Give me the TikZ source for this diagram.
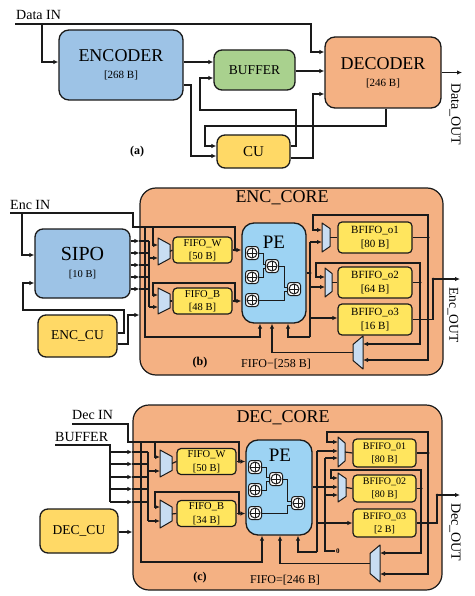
\documentclass[tikz,border=0pt]{standalone}
\usepackage{fontspec}
\setmainfont{Liberation Serif}
\usetikzlibrary{arrows.meta,calc}
\definecolor{cEnc}{HTML}{9DC3E6}
\definecolor{cBuf}{HTML}{A9D18E}
\definecolor{cDec}{HTML}{F4B183}
\definecolor{cCU}{HTML}{FFD966}
\definecolor{cFifo}{HTML}{FFE55E}
\definecolor{cPE}{HTML}{9DD3F3}
\definecolor{cMux}{HTML}{C8DDF2}
\definecolor{cLine}{HTML}{1A1A1A}
\newcommand{\fsz}[1]{\fontsize{#1}{#1}\selectfont}
\newcommand{\muxdraw}[6]{%
  \draw[muxs] (#2,#3-#5) -- (#2+#4,#3-#6) -- (#2+#4,#3+#6) -- (#2,#3+#5) -- cycle;
  \coordinate (#1-l) at (#2,#3);
  \coordinate (#1-r) at (#2+#4,#3);}
\tikzset{
  box/.style={draw=cLine, line width=1.3pt, rounded corners=8pt, inner sep=0pt, align=center},
  fifo/.style={box, fill=cFifo, rounded corners=4pt, line width=1.2pt, minimum width=59pt, minimum height=26pt, font={\fsz{10.5}}},
  bf/.style={box, fill=cFifo, rounded corners=4pt, line width=1.2pt, minimum width=74pt, minimum height=31pt, font={\fsz{11}}},
  wire/.style={draw=cLine, line width=1.2pt},
  arr/.style={wire, -{Latex[length=5pt,width=4.5pt]}},
  thinw/.style={draw=cLine, line width=0.7pt},
  muxs/.style={draw=cLine, line width=1pt, fill=cMux, line join=round},
  jdot/.style={circle, fill=cLine, inner sep=0pt, minimum size=3pt},
  lbl/.style={inner sep=0pt, font={\fsz{14}}},
  adder/.style={draw=cLine, line width=1pt, fill=white, rounded corners=3pt, minimum size=13pt, inner sep=0pt,
    path picture={
      \draw[line width=1pt] (path picture bounding box.center) circle (5pt);
      \draw[line width=1pt] ([xshift=-5pt]path picture bounding box.center) -- ([xshift=5pt]path picture bounding box.center);
      \draw[line width=1pt] ([yshift=-5pt]path picture bounding box.center) -- ([yshift=5pt]path picture bounding box.center);}},
}
\begin{document}
\begin{tikzpicture}[x=1pt,y=-1pt]
\useasboundingbox[fill=white] (0,0) rectangle (474,596);

%%%%%%%%%%%%%%%% (a)
\node[box, fill=cEnc, minimum width=124pt, minimum height=70pt, rounded corners=10pt] (enc) at (121,65) {\fsz{18}ENCODER\\[5pt]\fsz{11}[268 B]};
\node[box, fill=cBuf, minimum width=81pt, minimum height=40pt] (buf) at (254.5,70) {\fsz{13.5}BUFFER};
\node[box, fill=cDec, minimum width=116pt, minimum height=71pt, rounded corners=10pt] (dec) at (383,72.5) {\fsz{18}DECODER\\[5pt]\fsz{11}[246 B]};
\node[box, fill=cCU, minimum width=73pt, minimum height=33pt] (cu) at (253.5,151.5) {\fsz{15}CU};

\coordinate (din) at (15,24);
\node[lbl, anchor=south west] (dinl) at (16,20) {Data IN};
\draw[arr] (din) -- (311,24) |- (dec.west |- 0,52);
\draw[arr] (42,24) |- (enc.west |- 0,62);
\draw[arr] (enc.east |- 0,62) -- (buf.west |- 0,62);
\draw[arr] (buf.east |- 0,71) -- (dec.west |- 0,71);
\draw[arr] (enc.east |- 0,85) -| (191,156) -- (cu.west |- 0,156);
\draw[arr] (dec.south -| 386,0) |- (205,126) |- (cu.west |- 0,146);
\draw[arr] (cu.east |- 0,146) -| (296,110) -| (200,78) -- (buf.west |- 0,78);
\draw[arr] (cu.east |- 0,158) -| (313,94) -- (dec.west |- 0,94);
\coordinate (dout) at (462,72.5);
\draw[arr] (dec.east) -- (dout);
\node[lbl, rotate=-90, anchor=west] (doutl) at (455,83) {Data\_OUT};
\node[font={\fsz{12}\bfseries}] (la) at (137,152) {(a)};

%%%%%%%%%%%%%%%% (b)
\node[box, fill=cDec, minimum width=303pt, minimum height=187pt, rounded corners=16pt, line width=1.2pt] (coreb) at (291.5,281.5) {};
\node[font={\fsz{18}}] (corebl) at (282,198) {ENC\_CORE};
\node[box, fill=cEnc, minimum width=95pt, minimum height=69pt] (sipo) at (82.5,263.5) {\fsz{20}SIPO\\[5pt]\fsz{10.5}[10 B]};
\node[box, fill=cCU, minimum width=79pt, minimum height=42pt] (enccu) at (77.5,336) {\fsz{13.5}ENC\_CU};
\node[fifo] (fwb) at (202.5,250) {FIFO\_W\\[3pt][50 B]};
\node[fifo] (fbb) at (202.5,301) {FIFO\_B\\[3pt][48 B]};
\muxdraw{mwb}{158}{251.5}{12}{13.5}{7}
\muxdraw{mbb}{158}{301}{12}{13}{7}
\node[box, fill=cPE, minimum width=64pt, minimum height=100pt, rounded corners=12pt] (peb) at (274,273) {};
\node[font={\fsz{19}}] (pebl) at (274,242) {PE};
\node[adder] (b1) at (252,253) {};
\node[adder] (b2) at (252,277) {};
\node[adder] (b3) at (252,300) {};
\node[adder] (b4) at (272,266) {};
\node[adder] (b5) at (294,289) {};
\draw[thinw] (b1.east) -| (263,264) -- (b4.west |- 0,264);
\draw[thinw] (b2.east) -| (263,268) -- (b4.west |- 0,268);
\draw[thinw] (b4.east) -| (284,287) -- (b5.west |- 0,287);
\draw[thinw] (b3.east) -| (284,291) -- (b5.west |- 0,291);
\node[bf] (bf1b) at (375,237.5) {BFIFO\_o1\\[3pt][80 B]};
\node[bf] (bf2b) at (375,282.5) {BFIFO\_o2\\[3pt][64 B]};
\node[bf] (bf3b) at (375,319.5) {BFIFO\_o3\\[3pt][16 B]};
\muxdraw{mo1b}{322}{237.5}{8}{14.5}{9}
\muxdraw{mo2b}{325}{282.5}{7}{14.5}{9}
\muxdraw{mbot}{353}{352.5}{10}{8}{16.5}

\coordinate (encin) at (10,213);
\node[lbl, anchor=south west] (encinl) at (10,210) {Enc IN};
\draw[wire] (encin) -| (133,227) -- (153,227);
\draw[arr] (145,227) -- (145,337) -| (peb.south -| 260,0);
\draw[arr] (22,213) |- (sipo.west |- 0,255);
\foreach \yy in {241,253,265,277,289} {
  \draw[arr] (sipo.east |- 0,\yy) -- (coreb.west |- 0,\yy);
  \draw[wire] (coreb.west |- 0,\yy) -- (149,\yy);}
\draw[wire] (149,241) -- (149,307);
\draw[arr] (149,258) -- (mwb-l |- 0,258);
\draw[arr] (149,307) -- (mbb-l |- 0,307);
\draw[arr] (enccu.east |- 0,333) -| (124,310) -| (23,283) -- (sipo.west |- 0,283);
\draw[arr] (enccu.east |- 0,344) -| (128,315) -- (coreb.west |- 0,315);
\coordinate (fwbj) at (235,250);
\coordinate (fbbj) at (235,301);
\draw[wire] (mwb-r) -- (fwb.west);
\draw[wire] (mbb-r) -- (fbb.west);
\draw[arr] (fwb.east) -- (peb.west |- fwb.east);
\draw[arr] (fbb.east) -- (peb.west |- fbb.east);
\draw[arr] (fwbj) |- (153,227) |- (mwb-l |- 0,245);
\draw[arr] (fbbj) |- (153,283) |- (mbb-l |- 0,295);
\node[jdot] at (fwbj) {};
\node[jdot] at (fbbj) {};
% PE outputs
\coordinate (pebo) at (310,273);
\draw[wire] (peb.east |- pebo) -- (pebo);
\draw[wire] (310,242) -- (310,337);
\draw[arr] (310,337) -| (peb.south -| 288,0);
\draw[arr] (310,242) -- (mo1b-l |- 0,242);
\draw[arr] (310,287) -- (mo2b-l |- 0,287);
\draw[arr] (310,318) -- (bf3b.west |- 0,318);
\node[jdot] at (pebo) {};
\draw[wire] (mo1b-r) -- (bf1b.west);
\draw[wire] (mo2b-r) -- (bf2b.west);
\coordinate (bf1bj) at (428,237.5);
\coordinate (bf2bj) at (420,282.5);
\draw[wire] (bf1b.east) -- (bf1bj);
\draw[wire] (bf2b.east) -- (bf2bj);
\draw[arr] (bf1bj) |- (313,215) |- (mo1b-l |- 0,230);
\draw[arr] (bf1bj) |- (mbot-r |- 0,360);
\draw[arr] (bf2bj) |- (316,263) |- (mo2b-l |- 0,277);
\draw[arr] (bf2bj) |- (mbot-r |- 0,344);
\node[jdot] at (bf1bj) {};
\node[jdot] at (bf2bj) {};
\coordinate (eout) at (460,279);
\draw[arr] (bf3b.east) -| (433,279) -- (eout);
\node[jdot] at (433,279) {};
\node[rotate=-90, anchor=west, inner sep=0pt, font={\fsz{13.5}}] (eoutl) at (453,287) {Enc\_OUT};
\draw[arr] (mbot-l) -| (peb.south -| 272,0);
\node[font={\fsz{12}\bfseries}] (lb) at (200,363) {(b)};
\node[font={\fsz{12}}] (fifob) at (276,364) {FIFO−[258 B]};

%%%%%%%%%%%%%%%% (c)
\node[box, fill=cDec, minimum width=309pt, minimum height=185pt, rounded corners=16pt, line width=1.2pt] (corec) at (287.5,497.5) {};
\node[font={\fsz{18}}] (corecl) at (283,418) {DEC\_CORE};
\node[box, fill=cCU, minimum width=78pt, minimum height=44pt] (deccu) at (79,531) {\fsz{13.5}DEC\_CU};
\node[fifo] (fwc) at (206.5,461.5) {FIFO\_W\\[3pt][50 B]};
\node[fifo] (fbc) at (206.5,513.5) {FIFO\_B\\[3pt][34 B]};
\muxdraw{mwc}{160}{463.5}{12}{13.5}{7}
\muxdraw{mbc}{160}{514}{12}{14}{7}
\node[box, fill=cPE, minimum width=66pt, minimum height=95pt, rounded corners=12pt] (pec) at (279,487.5) {};
\node[font={\fsz{19}}] (pecl) at (280,455) {PE};
\node[adder] (c1) at (255,467) {};
\node[adder] (c2) at (255,490) {};
\node[adder] (c3) at (255,513) {};
\node[adder] (c4) at (276,479) {};
\node[adder] (c5) at (298,503) {};
\draw[thinw] (c1.east) -| (266,477) -- (c4.west |- 0,477);
\draw[thinw] (c2.east) -| (266,481) -- (c4.west |- 0,481);
\draw[thinw] (c4.east) -| (287,501) -- (c5.west |- 0,501);
\draw[thinw] (c3.east) -| (287,505) -- (c5.west |- 0,505);
\node[bf, minimum width=63pt, minimum height=28pt, font={\fsz{10}}] (bf1c) at (384.5,453) {BFIFO\_01\\[3pt][80 B]};
\node[bf, minimum width=63pt, minimum height=27pt, font={\fsz{10}}] (bf2c) at (384.5,488.5) {BFIFO\_02\\[3pt][80 B]};
\node[bf, minimum width=63pt, minimum height=28pt, font={\fsz{10}}] (bf3c) at (384.5,523) {BFIFO\_03\\[3pt][2 B]};
\muxdraw{mo1c}{338}{452}{7}{15}{9}
\muxdraw{mo2c}{338}{487.5}{8}{14.5}{9}
\muxdraw{mbotc}{370}{563.5}{10}{10}{18.5}

\coordinate (decin) at (72,424);
\node[lbl, anchor=south west] (decinl) at (72,420) {Dec IN};
\draw[wire] (decin) -| (128,442) -- (155,442);
\draw[arr] (141,442) -- (141,562) -| (pec.south -| 262,0);
\coordinate (bufin) at (55,445);
\node[lbl, anchor=south west] (bufinl) at (55,442) {BUFFER};
\draw[wire] (bufin) -| (110,502);
\foreach \yy in {452,464,477,489,502} {
  \draw[arr] (110,\yy) -- (corec.west |- 0,\yy);
  \draw[wire] (corec.west |- 0,\yy) -- (148,\yy);}
\draw[wire] (148,452) -- (148,521);
\draw[arr] (148,471) -- (mwc-l |- 0,471);
\draw[arr] (148,521) -- (mbc-l |- 0,521);
\draw[arr] (deccu.east |- 0,532) -- (corec.west |- 0,532);
\coordinate (fwcj) at (239,461.5);
\coordinate (fbcj) at (239,513.5);
\draw[wire] (mwc-r) -- (fwc.west);
\draw[wire] (mbc-r) -- (fbc.west);
\draw[arr] (fwc.east) -- (pec.west |- fwc.east);
\draw[arr] (fbc.east) -- (pec.west |- fbc.east);
\draw[arr] (fwcj) |- (155,442) |- (mwc-l |- 0,457);
\draw[arr] (fbcj) |- (155,492) |- (mbc-l |- 0,507);
\node[jdot] at (fwcj) {};
\node[jdot] at (fbcj) {};
% PE outputs
\coordinate (peco) at (317,487);
\draw[wire] (pec.east |- peco) -- (peco);
\draw[wire] (317,451) -- (317,552);
\draw[arr] (317,451) -- (mo1c-l |- 0,451);
\draw[arr] (317,487) -- (mo2c-l |- 0,487);
\draw[arr] (317,523) -- (bf3c.west |- 0,523);
\draw[arr] (317,552) -| (pec.south -| 298,0);
\node[jdot] at (peco) {};
\node[font={\fsz{7}\bfseries}, inner sep=1pt, anchor=west] (zero) at (335,551) {0};
\draw[wire] (zero.west) -| (325,458);
\draw[arr] (325,458) -- (mo1c-l |- 0,458);
\draw[arr] (325,495) -- (mo2c-l |- 0,495);
\draw[wire] (mo1c-r) -- (bf1c.west);
\draw[wire] (mo2c-r) -- (bf2c.west);
\coordinate (bf1cj) at (428,453);
\coordinate (bf2cj) at (421,488.5);
\draw[wire] (bf1c.east) -- (bf1cj);
\draw[wire] (bf2c.east) -- (bf2cj);
\draw[arr] (bf1cj) |- (327,432) |- (mo1c-l |- 0,442);
\draw[arr] (bf1cj) |- (mbotc-r |- 0,574);
\draw[arr] (bf2cj) |- (331,470) |- (mo2c-l |- 0,478);
\draw[arr] (bf2cj) |- (mbotc-r |- 0,553);
\node[jdot] at (bf1cj) {};
\node[jdot] at (bf2cj) {};
\coordinate (dcout) at (460,495);
\draw[arr] (bf3c.east) -| (437,495) -- (dcout);
\node[jdot] at (437,495) {};
\node[lbl, rotate=-90, anchor=west] (dcoutl) at (455,503) {Dec\_OUT};
\draw[arr] (mbotc-l) -| (pec.south -| 280,0);
\node[font={\fsz{12}\bfseries}] (lc) at (200,578) {(c)};
\node[font={\fsz{12}}] (fifoc) at (285,580) {FIFO=[246 B]};
\end{tikzpicture}
\end{document}
